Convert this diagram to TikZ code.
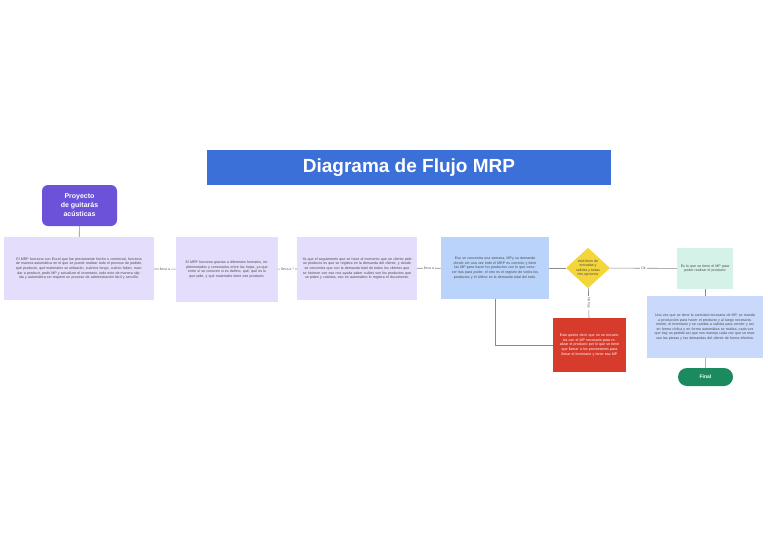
\documentclass[tikz,border=0pt]{standalone}
\usepackage{fontspec}
\setmainfont{Liberation Sans}
\usetikzlibrary{shapes.geometric}
\definecolor{lav}{HTML}{E4DDFB}
\definecolor{bl}{HTML}{B9D3FA}
\definecolor{bl2}{HTML}{C9D9FB}
\definecolor{mint}{HTML}{D5F2E9}
\definecolor{yel}{HTML}{F4D63A}
\definecolor{rd}{HTML}{D63B2B}
\definecolor{grn}{HTML}{1B8A5E}
\definecolor{pur}{HTML}{6C52D8}
\definecolor{tb}{HTML}{3B70D9}
\definecolor{ln}{HTML}{8A8A8A}
\tikzset{
 box/.style={draw=none,inner sep=2pt,align=center,font=\fontsize{3.6}{4.6}\selectfont,text=black!70},
 lab/.style={font=\fontsize{3.6}{4}\selectfont,text=black!60,fill=white,inner sep=1pt},
 con/.style={draw=ln,line width=0.6pt}
}
\begin{document}
\begin{tikzpicture}[x=1pt,y=-1pt]
\useasboundingbox[fill=white] (0,0) rectangle (768,543);
\foreach \x in {0,8,...,768}{\foreach \y in {148,156,...,400}{\fill[black!8] (\x,\y) circle (0.35);}}
\node[fill=tb,minimum width=404pt,minimum height=35pt,text=white,font=\bfseries\fontsize{19}{20}\selectfont] (title) at (409,167.5) {Diagrama de Flujo MRP};
\node[fill=pur,rounded corners=6pt,minimum width=75pt,minimum height=41pt,text=white,align=center,font=\bfseries\fontsize{7}{9}\selectfont] (proj) at (79.5,205.5) {Proyecto\\de guitarás\\acústicas};
\node[box,fill=lav,minimum width=150pt,minimum height=63pt,text width=144pt] (b1) at (79,268.5) {El MRP funciona con Excel que fue previamente hecho o comercial, funciona de manera automática en el que se puede realizar todo el proceso de pedido, qué producto, qué materiales se utilizarán, cuántos tengo, cuánto faltan, mandar a producir, pedir MP y actualizar el inventario, todo esto de manera rápida y automática sin requerir un proceso de administración fácil y sencillo.};
\node[box,fill=lav,minimum width=102pt,minimum height=65pt,text width=96pt] (b2) at (227,269.5) {El MRP funciona gracias a diferentes formatos, implementados y conectados entre las hojas, ya que entre sí se conocen si es dañino, qué, qué es lo que pide, y qué materiales tiene ese producto.};
\node[box,fill=lav,minimum width=120pt,minimum height=63pt,text width=114pt] (b3) at (357,268.5) {Ya que el seguimiento que se hace al momento que un cliente pide un producto es que se registra en la demanda del cliente, y donde se concentra que con la demanda total de todos los clientes que se hicieron con eso nos ayuda saber cuáles son los productos que se piden y cuántos, eso en automático lo registra el documento.};
\node[box,fill=bl,minimum width=108pt,minimum height=62pt,text width=102pt] (b4) at (495,268) {Eso se concentra una semana, MPy su demanda donde ver una vez todo el MRP es correcto y tiene las MP para hacer los productos con lo que conocer tras para poder, el otro es el registro de todos los productos y el último es la demanda total del todo.};
\node[diamond,fill=yel,minimum width=44pt,minimum height=40pt,inner sep=0pt,align=center,font=\fontsize{3.6}{4.4}\selectfont,text=black!70] (d) at (588,268) {está lleno de\\entradas y\\salidas y todas\\mis opciones};
\node[box,fill=mint,minimum width=56pt,minimum height=41pt,text width=52pt] (b5) at (705,268.5) {Es lo que se tiene el MP para poder realizar el producto};
\node[box,fill=bl2,minimum width=116pt,minimum height=62pt,text width=110pt] (b6) at (705,327) {Una vez que se tiene la cantidad necesaria de MP, se manda a producción para hacer el producto y al luego necesariamente, el inventario y se cambia a salidas para vender y así en forma cíclica y en forma automática se realiza, cada vez que hay un pedido así que nos maneja cada vez que se muevan las piezas y las demandas del cliente de forma efectiva.};
\node[fill=grn,rounded corners=9pt,minimum width=55pt,minimum height=18pt,text=white,font=\bfseries\fontsize{5}{6}\selectfont] (fin) at (705.5,377) {Final};
\node[box,fill=rd,text=white,minimum width=73pt,minimum height=54pt,text width=68pt] (r) at (589.5,345) {Esto quiere decir que no se encuentra con el MP necesario para realizar el producto por lo que se tiene que llamar a los proveedores para llenar el inventario y tener esa MP};
\draw[con] (proj) -- (b1);
\draw[con] (b1) -- node[lab]{lleva a} (b2);
\draw[con] (b2) -- node[lab]{lleva a *} (b3);
\draw[con] (b3) -- node[lab]{lleva a} (b4);
\draw[con] (b4) -- (d);
\draw[con] (d) -- node[lab]{Ok} (b5);
\draw[con] (d) -- node[lab,rotate=-90]{No hay} (r);
\draw[con] (b5) -- (b6);
\draw[con] (b6) -- (fin);
\draw[con] (b4.south) ++(0,0) |- (r.west);
\end{tikzpicture}
\end{document}
